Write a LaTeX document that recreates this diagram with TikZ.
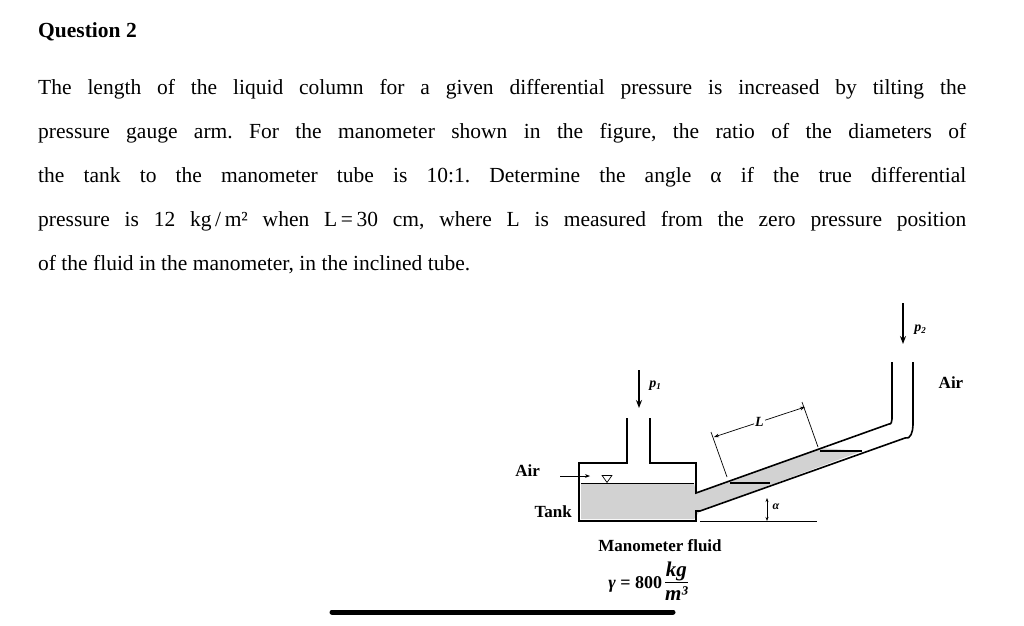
\documentclass[tikz,border=0pt]{standalone}
\usepackage{fontspec}
\setmainfont{Liberation Serif}
\usetikzlibrary{arrows.meta,shapes.geometric}
\frenchspacing
\begin{document}
\begin{tikzpicture}[x=1pt,y=-1pt,
  wall/.style={line width=1.6pt},
  thin/.style={line width=0.7pt},
  para/.style={anchor=base west,inner sep=0,font=\fontsize{21.5}{24}\selectfont},
  lab/.style={inner sep=0,font=\bfseries\fontsize{17}{20}\selectfont},
  sym/.style={inner sep=0,font=\bfseries\itshape\fontsize{14}{15}\selectfont}]
\useasboundingbox (0,0) rectangle (1024,625);
\node[anchor=base west,inner sep=0,font=\bfseries\fontsize{21.5}{24}\selectfont] (q) at (38,37) {Question 2};
\node[para] (l1) at (38,94) {\makebox[928pt][s]{The length of the liquid column for a given differential pressure is increased by tilting the}};
\node[para] (l2) at (38,138) {\makebox[928pt][s]{pressure gauge arm. For the manometer shown in the figure, the ratio of the diameters of}};
\node[para] (l3) at (38,182) {\makebox[928pt][s]{the tank to the manometer tube is 10:1. Determine the angle α if the true differential}};
\node[para] (l4) at (38,226) {\makebox[928pt][s]{pressure is 12 kg\,/\,m² when L\,=\,30 cm, where L is measured from the zero pressure position}};
\node[para] (l5) at (38,270) {of the fluid in the manometer, in the inclined tube.};
% fluid
\fill[gray!35] (581,483) -- (694,483) -- (696,493) -- (820,448) -- (862,451) -- (700,511) -- (694,519) -- (581,519) -- cycle;
% tank
\draw[wall] (627,418) -- (627,463) -- (579,463) -- (579,521) -- (696,521) -- (696,511) -- (700,511) -- (905,438) to[out=-20,in=-90] (913,425) -- (913,362);
\draw[wall] (650,418) -- (650,463) -- (696,463) -- (696,493) -- (889,424) to[out=-20,in=-90] (892,419) -- (892,362);
\draw[thin] (581,483) -- (694,483);
\draw[line width=1.2pt] (730,483) -- (770,483);
\draw[line width=1.2pt] (820,451) -- (862,451);
% free surface marker
\node[draw,isosceles triangle,shape border rotate=-90,isosceles triangle apex angle=70,minimum size=7pt,inner sep=0pt,thin,fill=white] (tri) at (607,478) {};
% air arrow
\coordinate (aa) at (560,476); \coordinate (ab) at (590,476);
\draw[thin,-{Stealth[length=5pt]}] (aa) -- (ab);
\node[lab,anchor=east] (air1) at (540,471) {Air};
\node[lab,anchor=east] (tank) at (572,512) {Tank};
\node[lab] (air2) at (951,383) {Air};
% p arrows
\coordinate (p1a) at (639,370); \coordinate (p1b) at (639,408);
\draw[line width=1.2pt,-{Stealth[length=8pt]}] (p1a) -- (p1b);
\node[sym] (p1) at (655,386) {p\raisebox{-2pt}{\fontsize{9}{9}\selectfont 1}};
\coordinate (p2a) at (903,303); \coordinate (p2b) at (903,344);
\draw[line width=1.2pt,-{Stealth[length=8pt]}] (p2a) -- (p2b);
\node[sym] (p2) at (920,330) {p\raisebox{-2pt}{\fontsize{9}{9}\selectfont 2}};
% L dimension
\coordinate (e1a) at (727,477); \coordinate (e1b) at (711,432);
\coordinate (e2a) at (818,447); \coordinate (e2b) at (802,402);
\draw[thin] (e1a) -- (e1b); \draw[thin] (e2a) -- (e2b);
\coordinate (d1) at (714,437); \coordinate (d2) at (805,407);
\node[sym,inner sep=1pt,fill=white] (L) at (759.5,422) {L};
\draw[thin,-{Stealth[length=5pt]}] (L) -- (d1);
\draw[thin,-{Stealth[length=5pt]}] (L) -- (d2);
% baseline and alpha
\coordinate (b1) at (700,521); \coordinate (b2) at (817,521);
\draw[thin] (b1) -- (b2);
\coordinate (al1) at (767,521); \coordinate (al2) at (767,498);
\draw[thin,{Stealth[length=4pt]}-{Stealth[length=4pt]}] (al1) -- (al2);
\node[sym,font=\bfseries\itshape\fontsize{12}{13}\selectfont] (alpha) at (776,507) {α};
% fluid label
\node[lab] (mf) at (660,546) {Manometer fluid};
\node[inner sep=0,font=\bfseries\fontsize{18}{18}\selectfont] (gam) at (648,584) {\itshape γ\upshape\ = 800\,\begin{tabular}{@{}c@{}}\fontsize{21}{21}\selectfont\rule[-4pt]{0pt}{18pt}\itshape kg\\\hline\fontsize{21}{21}\selectfont\rule{0pt}{18pt}\itshape m³\end{tabular}};
\coordinate (bar1) at (332,612); \coordinate (bar2) at (673,612);
\draw[line width=5pt,line cap=round] (bar1) -- (bar2);
\end{tikzpicture}
\end{document}
